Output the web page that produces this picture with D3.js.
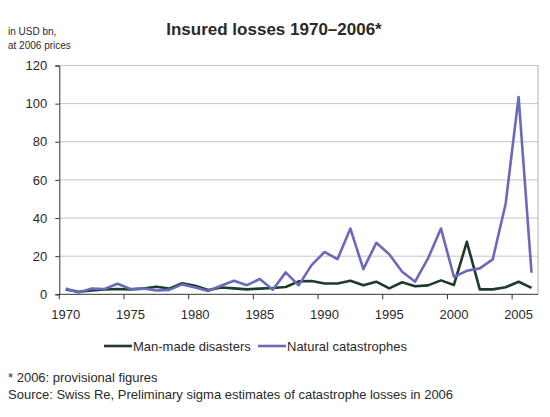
<!DOCTYPE html>
<html>
<head>
<meta charset="utf-8">
<script src="https://cdn.jsdelivr.net/npm/d3@7"></script>
<style>
  body { margin: 0; background: #fff; }
  text { font-family: "Liberation Sans", Arial, sans-serif; fill: #2a2a2a; }
</style>
</head>
<body>
<div id="chart"></div>
<script>
// years 1970..2006
var years = d3.range(1970, 2007);

// insured losses, USD bn at 2006 prices
var manMade = [2.5, 1.3, 2.0, 2.5, 2.8, 2.5, 3.0, 4.0, 3.0, 5.8,
               4.5, 2.2, 3.6, 3.1, 2.6, 3.0, 3.3, 3.8, 6.8, 7.0,
               5.7, 5.7, 7.1, 4.7, 6.6, 3.1, 6.3, 4.2, 4.7, 7.3,
               4.9, 27.5, 2.6, 2.6, 3.7, 6.6, 3.4];
var natural = [3.1, 0.9, 3.0, 2.8, 5.5, 2.8, 3.1, 2.0, 2.3, 5.2,
               3.6, 1.7, 4.5, 7.1, 4.8, 8.0, 2.4, 11.5, 4.7, 15.3,
               22.2, 18.4, 34.5, 13.2, 27.0, 21.0, 11.8, 6.6, 18.8, 34.5,
               9.2, 12.3, 13.6, 18.3, 47.5, 103.5, 11.3];

var yTicks = [0, 20, 40, 60, 80, 100, 120];
var xLabelYears = [1970, 1975, 1980, 1985, 1990, 1995, 2000, 2005];

var series = [
  { name: "Man-made disasters", values: manMade, color: "#1d3a2b" },
  { name: "Natural catastrophes", values: natural, color: "#6a6abb" }
];

var W = 550, H = 417;
// plot box (note: "top" is reserved on window, so use a prefix)
var pLeft = 59.3, pRight = 538, pTop = 65.5, pBottom = 294.3;

var svg = d3.select("#chart").append("svg")
  .attr("width", W).attr("height", H);

var x = d3.scaleBand().domain(years).range([pLeft, pRight]).padding(0);
var y = d3.scaleLinear().domain([0, 120]).range([pBottom, pTop]);

// gridlines
svg.append("g").selectAll("line")
  .data(yTicks.filter(function (d) { return d > 0; }))
  .enter().append("line")
  .attr("x1", pLeft).attr("x2", pRight)
  .attr("y1", function (d) { return y(d); })
  .attr("y2", function (d) { return y(d); })
  .attr("stroke", "#c4c4c4").attr("stroke-width", 1);

// right frame
svg.append("line")
  .attr("x1", pRight).attr("x2", pRight).attr("y1", pTop).attr("y2", pBottom)
  .attr("stroke", "#b0b0b0").attr("stroke-width", 1);

// y axis
var yAxis = d3.axisLeft(y).tickValues(yTicks).tickSize(4).tickPadding(8);
var gy = svg.append("g").attr("transform", "translate(" + pLeft + ",0)").call(yAxis);
gy.select(".domain").attr("stroke", "#333");
gy.selectAll(".tick line").attr("stroke", "#333");
gy.selectAll("text").style("font-size", "13px").attr("fill", "#2a2a2a");

// x axis: ticks at category boundaries, labels at category centres
svg.append("line")
  .attr("x1", pLeft).attr("x2", pRight).attr("y1", pBottom).attr("y2", pBottom)
  .attr("stroke", "#333");
svg.append("g").selectAll("line")
  .data(xLabelYears)
  .enter().append("line")
  .attr("x1", function (d) { return x(d); })
  .attr("x2", function (d) { return x(d); })
  .attr("y1", pBottom).attr("y2", pBottom + 5)
  .attr("stroke", "#333");
svg.append("g").selectAll("text")
  .data(xLabelYears)
  .enter().append("text")
  .attr("x", function (d) { return x(d) + x.bandwidth() / 2; })
  .attr("y", pBottom + 25)
  .attr("text-anchor", "middle")
  .style("font-size", "13px")
  .text(function (d) { return d; });

// lines
var line = d3.line()
  .x(function (d, i) { return x(years[i]) + x.bandwidth() / 2; })
  .y(function (d) { return y(d); });

series.forEach(function (s) {
  svg.append("path")
    .datum(s.values)
    .attr("d", line)
    .attr("fill", "none")
    .attr("stroke", s.color)
    .attr("stroke-width", 2.6)
    .attr("stroke-linejoin", "round");
});

// title and unit note
svg.append("text")
  .attr("x", 274).attr("y", 35)
  .attr("text-anchor", "middle")
  .style("font-size", "17px").style("font-weight", "bold")
  .attr("fill", "#000")
  .text("Insured losses 1970\u20132006*");
svg.append("text").attr("x", 8).attr("y", 35)
  .style("font-size", "10px").text("in USD bn,");
svg.append("text").attr("x", 8).attr("y", 49)
  .style("font-size", "10px").text("at 2006 prices");

// legend
var legendX = [104, 258];
var lg = svg.append("g");
series.forEach(function (s, i) {
  lg.append("line")
    .attr("x1", legendX[i]).attr("x2", legendX[i] + 28)
    .attr("y1", 346).attr("y2", 346)
    .attr("stroke", s.color).attr("stroke-width", 2.6);
  lg.append("text")
    .attr("x", legendX[i] + 29).attr("y", 350.5)
    .style("font-size", "13px")
    .text(s.name);
});

// footnotes
svg.append("text").attr("x", 8).attr("y", 382)
  .style("font-size", "13px").text("* 2006: provisional figures");
svg.append("text").attr("x", 8).attr("y", 399)
  .style("font-size", "13px").text("Source: Swiss Re, Preliminary sigma estimates of catastrophe losses in 2006");
</script>
</body>
</html>
